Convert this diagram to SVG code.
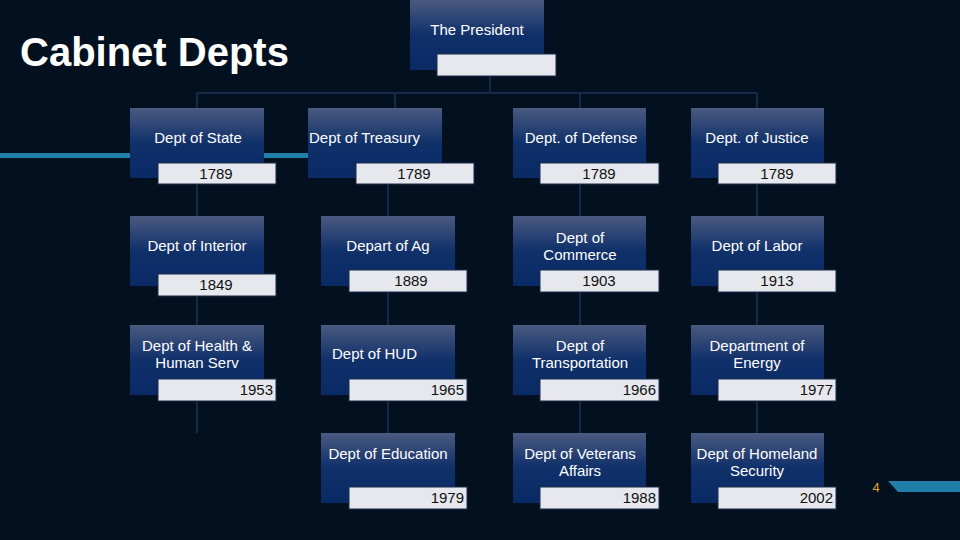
<svg xmlns="http://www.w3.org/2000/svg" width="960" height="540" viewBox="0 0 960 540">
<defs>
<linearGradient id="g" x1="0" y1="0" x2="0" y2="1">
<stop offset="0" stop-color="#4a5a80"/><stop offset="0.5" stop-color="#10306a"/><stop offset="1" stop-color="#0a2a66"/>
</linearGradient>
</defs>
<style>
.b{fill:url(#g)}
.l{fill:#e6e8ee;stroke:#1b2c4a;stroke-width:1}
.t{font-family:"Liberation Sans",Arial,sans-serif;font-size:15px;fill:#fff}
.y{font-family:"Liberation Sans",Arial,sans-serif;font-size:15px;fill:#111}
.c{fill:none;stroke:#16294a;stroke-width:2}
</style>
<rect width="960" height="540" fill="#03101f"/>
<rect x="0" y="153" width="320" height="5" fill="#1f7fa8"/>
<polygon points="888,481 960,481 960,492 898,492" fill="#1f7fa8"/>
<text x="876" y="492" font-family="Liberation Sans,Arial,sans-serif" font-size="13" fill="#e0a020" text-anchor="middle">4</text>
<text x="20" y="66" font-family="Liberation Sans,Arial,sans-serif" font-size="40" font-weight="bold" fill="#fff">Cabinet Depts</text>
<g id="connectors" class="c">
<path d="M490 76V93M197 93H757M197 93V433M395 93V108M388 178V433M580 93V433M757 93V433"/>
</g>
<g id="president"><rect class="b" x="410" y="0" width="134" height="70"/><rect class="l" x="437" y="54" width="119" height="22"/><text class="t" x="477" y="35" text-anchor="middle">The President</text></g>
<g id="state"><rect class="b" x="130" y="108" width="134" height="70"/><rect class="l" x="158" y="163" width="118" height="21"/><text class="t" x="198" y="143" text-anchor="middle">Dept of State</text><text class="y" x="216" y="179" text-anchor="middle">1789</text></g>
<g id="treasury"><rect class="b" x="308" y="108" width="134" height="70"/><rect class="l" x="356" y="163" width="118" height="21"/><text class="t" x="309" y="143">Dept of Treasury</text><text class="y" x="414" y="179" text-anchor="middle">1789</text></g>
<g id="defense"><rect class="b" x="513" y="108" width="133" height="70"/><rect class="l" x="540" y="163" width="119" height="21"/><text class="t" x="581" y="143" text-anchor="middle">Dept. of Defense</text><text class="y" x="599" y="179" text-anchor="middle">1789</text></g>
<g id="justice"><rect class="b" x="691" y="108" width="133" height="70"/><rect class="l" x="718" y="163" width="118" height="21"/><text class="t" x="757" y="143" text-anchor="middle">Dept. of Justice</text><text class="y" x="777" y="179" text-anchor="middle">1789</text></g>
<g id="interior"><rect class="b" x="130" y="216" width="134" height="70"/><rect class="l" x="158" y="274" width="118" height="22"/><text class="t" x="197" y="251" text-anchor="middle">Dept of Interior</text><text class="y" x="216" y="290" text-anchor="middle">1849</text></g>
<g id="ag"><rect class="b" x="321" y="216" width="134" height="70"/><rect class="l" x="349" y="270" width="118" height="22"/><text class="t" x="388" y="251" text-anchor="middle">Depart of Ag</text><text class="y" x="411" y="286" text-anchor="middle">1889</text></g>
<g id="commerce"><rect class="b" x="513" y="216" width="133" height="70"/><rect class="l" x="540" y="270" width="119" height="22"/><text class="t" x="580" y="243" text-anchor="middle">Dept of</text><text class="t" x="580" y="260" text-anchor="middle">Commerce</text><text class="y" x="599" y="286" text-anchor="middle">1903</text></g>
<g id="labor"><rect class="b" x="691" y="216" width="133" height="70"/><rect class="l" x="718" y="270" width="118" height="22"/><text class="t" x="757" y="251" text-anchor="middle">Dept of Labor</text><text class="y" x="777" y="286" text-anchor="middle">1913</text></g>
<g id="health"><rect class="b" x="130" y="325" width="134" height="70"/><rect class="l" x="158" y="379" width="118" height="22"/><text class="t" x="197" y="351" text-anchor="middle">Dept of Health &amp;</text><text class="t" x="197" y="368" text-anchor="middle">Human Serv</text><text class="y" x="273" y="395" text-anchor="end">1953</text></g>
<g id="hud"><rect class="b" x="321" y="325" width="134" height="70"/><rect class="l" x="349" y="379" width="118" height="22"/><text class="t" x="332" y="359">Dept of HUD</text><text class="y" x="464" y="395" text-anchor="end">1965</text></g>
<g id="transportation"><rect class="b" x="513" y="325" width="133" height="70"/><rect class="l" x="540" y="379" width="119" height="22"/><text class="t" x="580" y="351" text-anchor="middle">Dept of</text><text class="t" x="580" y="368" text-anchor="middle">Transportation</text><text class="y" x="656" y="395" text-anchor="end">1966</text></g>
<g id="energy"><rect class="b" x="691" y="325" width="133" height="70"/><rect class="l" x="718" y="379" width="118" height="22"/><text class="t" x="757" y="351" text-anchor="middle">Department of</text><text class="t" x="757" y="368" text-anchor="middle">Energy</text><text class="y" x="833" y="395" text-anchor="end">1977</text></g>
<g id="education"><rect class="b" x="321" y="433" width="134" height="70"/><rect class="l" x="349" y="487" width="118" height="22"/><text class="t" x="388" y="459" text-anchor="middle">Dept of Education</text><text class="y" x="464" y="503" text-anchor="end">1979</text></g>
<g id="veterans"><rect class="b" x="513" y="433" width="133" height="70"/><rect class="l" x="540" y="487" width="119" height="22"/><text class="t" x="580" y="459" text-anchor="middle">Dept of Veterans</text><text class="t" x="580" y="476" text-anchor="middle">Affairs</text><text class="y" x="656" y="503" text-anchor="end">1988</text></g>
<g id="homeland"><rect class="b" x="691" y="433" width="133" height="70"/><rect class="l" x="718" y="487" width="118" height="22"/><text class="t" x="757" y="459" text-anchor="middle">Dept of Homeland</text><text class="t" x="757" y="476" text-anchor="middle">Security</text><text class="y" x="833" y="503" text-anchor="end">2002</text></g>
</svg>
